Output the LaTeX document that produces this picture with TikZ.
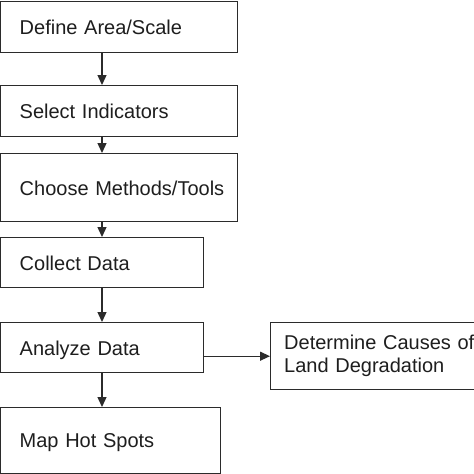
\documentclass[tikz,border=0pt]{standalone}
\usepackage{fontspec}
\setmainfont{Liberation Sans}
\usetikzlibrary{arrows.meta}
\definecolor{ln}{HTML}{2B2B2B}
\definecolor{tx}{HTML}{1E1E1E}
\begin{document}
\begin{tikzpicture}[x=1pt,y=-1pt,
  box/.style={draw=ln, line width=1.4pt, rectangle, anchor=north west,
    inner xsep=19pt, inner ysep=0pt, align=left, text=tx,
    font=\fontsize{20}{23}\selectfont, text height=14.6pt, text depth=0pt},
  box2l/.style={draw=ln, line width=1.4pt, rectangle, anchor=north west,
    inner xsep=13.5pt, inner ysep=0pt, align=left, text=tx,
    font=\fontsize{20}{23}\selectfont},
  arr/.style={draw=ln, line width=1.3pt, -{Triangle[length=10pt,width=9pt]}}]
\useasboundingbox (0,0) rectangle (474,474);
\clip (0,0) rectangle (474,474);
\fill[white] (0,0) rectangle (474,474);
\coordinate (ax) at (102,0);
\node[box, minimum width=237pt, minimum height=51pt, text width=199pt] (b1) at (0,0.5) {\mbox{Define Area/Scale}};
\node[box, minimum width=237pt, minimum height=51pt, text width=199pt] (b2) at (0,85) {\mbox{Select Indicators}};
\node[box, minimum width=237pt, minimum height=68pt, text width=199pt] (b3) at (0,153) {\mbox{Choose Methods/Tools}};
\node[box, minimum width=203pt, minimum height=50pt, text width=165pt] (b4) at (0,237) {\mbox{Collect Data}};
\node[box, minimum width=203pt, minimum height=50pt, text width=165pt] (b5) at (0,322) {\mbox{Analyze Data}};
\node[box, minimum width=220pt, minimum height=65.5pt, text width=182pt] (b6) at (0,407) {\mbox{Map Hot Spots}};
\node[box2l, minimum width=230pt, minimum height=67pt, text width=203pt] (b7) at (270,322) {Determine Causes of\\Land Degradation};
\draw[arr] (b1.south -| ax) -- (b2.north -| ax);
\draw[arr] (b2.south -| ax) -- (b3.north -| ax);
\draw[arr] (b3.south -| ax) -- (b4.north -| ax);
\draw[arr] (b4.south -| ax) -- (b5.north -| ax);
\draw[arr] (b5.south -| ax) -- (b6.north -| ax);
\draw[arr] (b7.west -| b5.east) -- (b7.west);
\end{tikzpicture}
\end{document}
